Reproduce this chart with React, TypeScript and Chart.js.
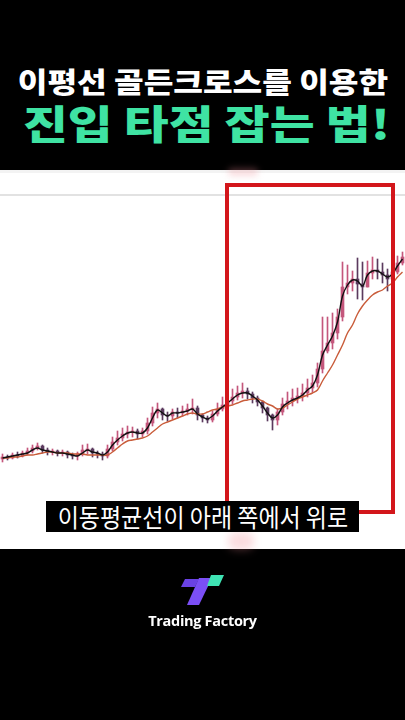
import React, { useEffect, useRef } from "react";
import { Chart, registerables } from "chart.js";

Chart.register(...registerables);

// Short moving average (black) – price units
const maShort = [
  91, 92, 93, 94, 95, 96, 99, 101, 99, 98,
  97, 96, 96, 95, 94, 93, 96, 99, 97, 96,
  94, 97, 104, 109, 113, 116, 117, 116, 116, 121,
  131, 139, 136, 133, 136, 136, 137, 138, 140, 135,
  132, 130, 133, 138, 142, 146, 150, 154, 156, 156,
  153, 149, 143, 136, 131, 134, 142, 146, 149, 151,
  154, 159, 163, 174, 194, 204, 213, 227, 253, 264,
  269, 268, 263, 274, 278, 278, 275, 272, 275, 283,
  290,
];

// Long moving average (orange)
const maLong = [
  91, 91, 92, 92, 93, 94, 94, 95, 96, 97,
  97, 96, 96, 96, 95, 95, 95, 94, 94, 94,
  94, 94, 97, 101, 105, 108, 109, 110, 111, 113,
  117, 121, 125, 127, 129, 131, 133, 135, 136, 135,
  135, 137, 139, 140, 142, 143, 144, 146, 148, 149,
  150, 150, 148, 145, 143, 140, 141, 144, 147, 150,
  152, 154, 156, 159, 168, 176, 184, 194, 204, 216,
  224, 235, 243, 249, 254, 257, 259, 263, 266, 272,
  277,
];

const candleOpen = [
  90, 92, 91, 94, 93, 96, 98, 101, 103, 99,
  97, 98, 96, 97, 94, 93, 95, 99, 100, 96,
  95, 93, 100, 107, 111, 115, 117, 118, 115, 118,
  126, 136, 140, 134, 133, 137, 136, 138, 140, 141,
  134, 131, 129, 135, 140, 144, 148, 152, 156, 158,
  155, 151, 147, 141, 134, 129, 137, 145, 148, 151,
  153, 156, 161, 166, 180, 198, 206, 216, 232, 262,
  266, 270, 265, 262, 276, 279, 277, 274, 270, 277,
  286,
];

const candleClose = [
  92, 91, 94, 93, 96, 98, 101, 103, 99, 97,
  98, 96, 97, 94, 93, 95, 99, 100, 96, 95,
  93, 100, 107, 111, 115, 117, 118, 115, 118, 126,
  136, 140, 134, 133, 137, 136, 138, 140, 141, 134,
  131, 129, 135, 140, 144, 148, 152, 156, 158, 155,
  151, 147, 141, 134, 129, 137, 145, 148, 151, 153,
  156, 161, 166, 180, 198, 206, 216, 232, 262, 266,
  270, 265, 262, 276, 279, 277, 274, 270, 277, 286,
  292,
];

const candleHigh = [
  95, 94, 96, 97, 98, 101, 104, 106, 104, 101,
  100, 99, 99, 98, 96, 97, 104, 105, 101, 98,
  97, 104, 112, 118, 121, 123, 122, 120, 121, 131,
  142, 146, 141, 137, 140, 141, 143, 145, 150, 143,
  135, 133, 138, 146, 152, 155, 160, 163, 166, 161,
  157, 153, 148, 142, 135, 140, 151, 157, 160, 161,
  165, 170, 174, 186, 232, 232, 236, 240, 287, 284,
  278, 291, 287, 288, 292, 290, 286, 280, 284, 293,
  297,
];

const candleLow = [
  87, 89, 90, 91, 92, 94, 96, 99, 96, 94,
  94, 93, 93, 91, 90, 89, 93, 95, 92, 91,
  89, 91, 98, 104, 108, 111, 112, 110, 112, 115,
  123, 131, 129, 128, 130, 131, 133, 134, 135, 129,
  127, 126, 127, 133, 138, 141, 145, 149, 151, 150,
  146, 143, 136, 128, 119, 124, 134, 140, 143, 146,
  148, 152, 157, 162, 176, 196, 200, 210, 228, 255,
  258, 250, 249, 262, 270, 270, 266, 258, 262, 275,
  284,
];

const candleLabels = maShort.map((_, i) => `D${i + 1}`);

const titleLine1 = "이평선 골든크로스를 이용한";
const titleLine2 = "진입 타점 잡는 법!";
const subtitle = "이동평균선이 아래 쪽에서 위로";
const brand = "Trading Factory";

const UP = "#c4577c";
const DOWN = "#5b3a5e";

export default function App() {
  const ref = useRef<HTMLCanvasElement>(null);

  useEffect(() => {
    const colors = candleClose.map((c, i) => (c >= candleOpen[i] ? UP : DOWN));
    const chart = new Chart(ref.current as HTMLCanvasElement, {
      type: "bar",
      data: {
        labels: candleLabels,
        datasets: [
          {
            type: "line",
            label: "MA short",
            data: maShort,
            borderColor: "#111111",
            borderWidth: 1.4,
            pointRadius: 0,
            tension: 0.35,
            order: 0,
          } as any,
          {
            type: "line",
            label: "MA long",
            data: maLong,
            borderColor: "#c95c3a",
            borderWidth: 1.4,
            pointRadius: 0,
            tension: 0.35,
            order: 1,
          } as any,
          {
            type: "bar",
            label: "body",
            data: candleOpen.map((o, i) => [Math.min(o, candleClose[i]), Math.max(o, candleClose[i])]),
            backgroundColor: colors,
            barThickness: 3,
            grouped: false,
            order: 2,
          } as any,
          {
            type: "bar",
            label: "wick",
            data: candleLow.map((l, i) => [l, candleHigh[i]]),
            backgroundColor: colors,
            barThickness: 1,
            grouped: false,
            order: 3,
          } as any,
        ],
      },
      options: {
        responsive: false,
        maintainAspectRatio: false,
        animation: false,
        layout: { padding: 0 },
        plugins: { legend: { display: false }, tooltip: { enabled: false } },
        scales: {
          x: { display: false, offset: true },
          y: { display: false, min: 0, max: 379 },
        },
      },
    });
    return () => chart.destroy();
  }, []);

  const abs: React.CSSProperties = { position: "absolute" };

  return (
    <div
      style={{
        position: "fixed",
        left: 0,
        top: 0,
        width: 405,
        height: 720,
        background: "#000",
        overflow: "hidden",
        fontFamily: "'Noto Sans CJK KR', 'Noto Sans', sans-serif",
      }}
    >
      <div
        style={{
          ...abs,
          left: 0,
          top: 62,
          width: 405,
          height: 38,
          lineHeight: "38px",
          textAlign: "center",
          whiteSpace: "nowrap",
        }}
      >
        <span
          style={{
            display: "inline-block",
            fontSize: 28,
            fontWeight: 900,
            color: "#ffffff",
            transform: "scaleX(1.15)",
            transformOrigin: "center",
          }}
        >
          {titleLine1}
        </span>
      </div>
      <div
        style={{
          ...abs,
          left: 4,
          top: 100,
          width: 405,
          height: 44,
          lineHeight: "44px",
          textAlign: "center",
          whiteSpace: "nowrap",
        }}
      >
        <span
          style={{
            display: "inline-block",
            fontSize: 40,
            fontWeight: 900,
            color: "#3fe3a3",
            transform: "scaleX(1.22)",
            transformOrigin: "center",
          }}
        >
          {titleLine2}
        </span>
      </div>

      <div style={{ ...abs, left: 0, top: 170, width: 405, height: 379, background: "#ffffff" }} />
      <div style={{ ...abs, left: 0, top: 170, width: 405, height: 3, background: "#f3f3f3" }} />
      <div style={{ ...abs, left: 0, top: 194, width: 405, height: 2, background: "#e2e2e2" }} />
      <canvas
        ref={ref}
        width={405}
        height={379}
        style={{ ...abs, left: 0, top: 170, width: 405, height: 379 }}
      />
      <div
        style={{
          ...abs,
          left: 228,
          top: 168,
          width: 30,
          height: 8,
          borderRadius: 6,
          background: "rgba(240,140,150,0.3)",
          filter: "blur(3px)",
        }}
      />
      <div
        style={{
          ...abs,
          left: 228,
          top: 532,
          width: 26,
          height: 18,
          borderRadius: 8,
          background: "rgba(240,140,150,0.3)",
          filter: "blur(4px)",
        }}
      />
      <div
        style={{
          ...abs,
          left: 225,
          top: 183,
          width: 170,
          height: 331,
          border: "4px solid #d3161b",
          boxSizing: "border-box",
        }}
      />
      <div
        style={{
          ...abs,
          left: 46,
          top: 501,
          width: 313,
          height: 31,
          background: "#000",
          color: "#fff",
          display: "flex",
          alignItems: "center",
          justifyContent: "center",
          whiteSpace: "nowrap",
          overflow: "hidden",
        }}
      >
        <span
          style={{
            display: "inline-block",
            flex: "none",
            fontSize: 25,
            lineHeight: "31px",
            transform: "scaleX(0.92)",
            transformOrigin: "center",
          }}
        >
          {subtitle}
        </span>
      </div>

      <svg style={{ ...abs, left: 0, top: 560 }} width={405} height={60}>
        <polygon points="185,19 199,19 195,27 181,27" fill="#6a42e4" />
        <polygon points="199,18 212,18 199,45 187,45" fill="#7b4ff5" />
        <polygon points="211,15 224,15 219,26 207,26" fill="#3fe3b3" />
      </svg>
      <div
        style={{
          ...abs,
          left: 0,
          top: 610,
          width: 405,
          height: 22,
          lineHeight: "22px",
          textAlign: "center",
          color: "#fff",
          fontFamily: "'Open Sans', 'Noto Sans', sans-serif",
          fontWeight: 700,
          fontSize: 14.5,
          letterSpacing: -0.3,
        }}
      >
        {brand}
      </div>
    </div>
  );
}
